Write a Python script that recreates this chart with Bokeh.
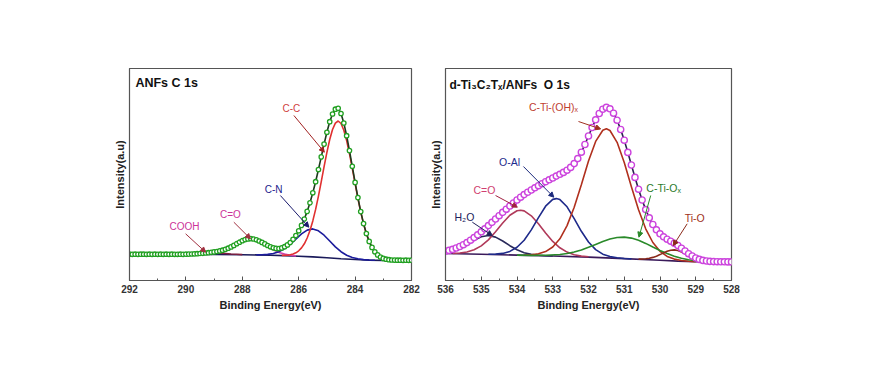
from bokeh.plotting import figure
from bokeh.models import Range1d, SingleIntervalTicker, FixedTicker, Label, Arrow, NormalHead
from bokeh.layouts import row
from bokeh.embed import file_html
from bokeh.resources import INLINE

FONT = "Liberation Sans"

# ---------------- Left panel: ANFs C 1s ----------------
c1s_be = [round(292.0 - 0.1 * i, 1) for i in range(101)]
c1s_counts = [25.3, 25.2, 25.3, 25.2, 25.3, 25.3, 25.2, 25.3, 25.2, 25.3,
              25.2, 25.3, 25.2, 25.3, 25.2, 25.3, 25.2, 25.2, 25.3, 25.2,
              25.3, 25.4, 25.5, 25.6, 25.8, 26.0, 26.2, 26.5, 26.8, 27.2,
              27.6, 28.0, 28.6, 29.3, 30.2, 31.3, 32.6, 34.1, 35.8, 37.3,
              38.8, 39.9, 40.6, 40.9, 40.5, 39.7, 38.5, 37.1, 35.6, 34.0,
              32.7, 31.7, 31.1, 31.0, 31.6, 32.8, 34.6, 37.0, 40.2, 44.0,
              48.7, 54.1, 60.5, 68.1, 76.7, 86.7, 97.8, 110.0, 122.6, 135.4,
              147.2, 157.8, 165.5, 170.3, 171.2, 166.0, 156.5, 143.8, 128.9, 113.2,
              97.1, 81.9, 67.9, 55.9, 46.0, 38.1, 32.1, 27.7, 24.6, 22.5,
              21.1, 20.3, 19.8, 19.5, 19.4, 19.3, 19.3, 19.2, 19.3, 19.2, 19.3]

c1s_bg_be = [292.0, 289.0, 288.0, 287.0, 286.5, 286.0, 285.5, 285.0, 284.5, 284.0, 283.5, 283.0, 282.0]
c1s_bg = [25.0, 25.0, 24.8, 24.3, 23.9, 23.3, 22.6, 21.7, 20.8, 20.0, 19.4, 19.1, 19.0]

cc_be = [286.6, 286.4, 286.3, 286.2, 286.1, 286.0, 285.9, 285.8, 285.7, 285.6, 285.5,
         285.4, 285.3, 285.2, 285.1, 285.0, 284.9, 284.8, 284.7, 284.6, 284.5,
         284.4, 284.3, 284.2, 284.1, 284.0, 283.9, 283.8, 283.7, 283.6, 283.5,
         283.4, 283.3, 283.2, 283.1, 283.0, 282.8, 282.6]
cc_val = [24.1, 24.3, 24.8, 25.5, 26.7, 28.7, 31.6, 35.7, 41.5, 49.0, 58.6,
          70.1, 83.4, 97.8, 112.9, 127.2, 140.0, 150.0, 156.3, 158.5, 156.0,
          149.3, 139.0, 125.8, 111.2, 95.8, 81.0, 67.4, 55.6, 45.8, 38.0,
          32.1, 27.7, 24.6, 22.5, 21.1, 19.7, 19.2]

cn_be = [287.5, 287.3, 287.1, 286.9, 286.7, 286.5, 286.3, 286.1, 285.9, 285.7, 285.5,
         285.3, 285.1, 284.9, 284.7, 284.5, 284.3, 284.1, 283.9, 283.7, 283.5, 283.3]
cn_val = [24.6, 24.7, 25.1, 26.0, 27.8, 30.9, 35.1, 40.4, 45.6, 49.4, 50.6,
          48.7, 44.3, 38.5, 32.6, 27.8, 24.3, 22.0, 20.7, 19.9, 19.5, 19.3]

co_be = [289.3, 289.1, 288.9, 288.7, 288.5, 288.3, 288.1, 287.9, 287.7, 287.5, 287.3,
         287.1, 286.9, 286.7, 286.5, 286.3, 286.1]
co_val = [25.2, 25.6, 26.5, 28.1, 30.5, 33.7, 37.1, 39.7, 40.6, 39.5, 36.7,
          33.1, 29.8, 27.1, 25.4, 24.2, 23.6]

cooh_be = [290.0, 289.8, 289.6, 289.4, 289.2, 289.0, 288.8, 288.6, 288.4, 288.2, 288.0]
cooh_val = [25.1, 25.3, 25.6, 26.0, 26.4, 26.5, 26.4, 25.95, 25.5, 25.2, 24.9]

# ---------------- Right panel: d-Ti3C2Tx/ANFs O 1s ----------------
o1s_be = [round(536.0 - 0.1 * i, 1) for i in range(81)]
o1s_counts = [29.8, 30.6, 31.6, 33.0, 34.5, 36.3, 38.4, 40.8, 43.4, 46.2,
              49.2, 52.2, 55.4, 58.6, 62.0, 65.3, 68.6, 71.8, 75.0, 78.0,
              81.0, 83.8, 86.4, 88.8, 91.0, 93.2, 95.3, 97.3, 99.3, 101.2,
              103.0, 104.9, 106.7, 108.6, 110.8, 113.6, 117.4, 122.4, 128.8, 136.5,
              145.0, 153.5, 161.2, 167.5, 171.8, 173.6, 172.2, 167.8, 160.8, 151.5,
              140.8, 128.6, 116.0, 103.6, 91.8, 81.0, 71.4, 63.2, 56.5, 51.2,
              47.2, 44.2, 41.8, 39.8, 37.8, 35.5, 32.8, 30.0, 27.3, 25.0,
              23.0, 21.6, 20.6, 20.0, 19.6, 19.4, 19.3, 19.2, 19.2, 19.1, 19.1]

o1s_bg_be = [536.0, 535.0, 534.0, 533.0, 532.0, 531.0, 530.0, 529.5, 529.0, 528.5, 528.0]
o1s_bg = [27.5, 26.7, 25.9, 25.0, 23.9, 22.4, 20.7, 19.9, 19.3, 19.0, 19.0]

h2o_be = [536.0, 535.8, 535.6, 535.4, 535.2, 535.0, 534.8, 534.6, 534.4, 534.2, 534.0,
          533.8, 533.6, 533.4, 533.2, 533.0]
h2o_val = [28.6, 29.9, 32.5, 36.3, 40.7, 44.2, 45.5, 43.9, 40.0, 35.3, 31.2,
           28.3, 26.6, 25.7, 25.3, 25.0]

oco_be = [535.8, 535.6, 535.4, 535.2, 535.0, 534.8, 534.6, 534.4, 534.2, 534.0, 533.9,
          533.8, 533.6, 533.4, 533.2, 533.0, 532.8, 532.6, 532.4, 532.2, 532.0]
oco_val = [27.6, 28.0, 29.0, 31.2, 35.1, 41.1, 49.2, 58.0, 65.8, 70.3, 70.8,
           70.1, 65.2, 57.2, 48.0, 39.6, 33.2, 28.9, 26.3, 24.9, 24.2]

oal_be = [534.8, 534.6, 534.4, 534.2, 534.0, 533.8, 533.6, 533.4, 533.2, 533.0, 532.9,
          532.8, 532.6, 532.4, 532.2, 532.0, 531.8, 531.6, 531.4, 531.2, 531.0, 530.8]
oal_val = [26.7, 26.9, 27.6, 29.6, 33.7, 40.8, 51.1, 63.4, 74.8, 81.6, 82.4,
           81.4, 74.2, 62.3, 49.7, 39.0, 31.4, 26.8, 24.4, 23.2, 22.55, 22.1]

toh_be = [533.8, 533.6, 533.4, 533.2, 533.0, 532.8, 532.6, 532.4, 532.2, 532.0, 531.8,
          531.6, 531.5, 531.4, 531.2, 531.0, 530.8, 530.6, 530.4, 530.2, 530.0,
          529.8, 529.6, 529.4, 529.2, 529.0]
toh_val = [26.0, 26.2, 27.2, 29.4, 34.0, 42.2, 55.4, 73.8, 96.3, 119.9, 139.6,
           150.8, 152.2, 150.5, 138.7, 118.4, 94.3, 71.2, 52.2, 38.5, 29.7,
           24.6, 21.9, 20.5, 19.8, 19.35]

tox_be = [534.0, 533.6, 533.2, 532.8, 532.6, 532.4, 532.2, 532.0, 531.8, 531.6, 531.4,
          531.2, 531.0, 530.8, 530.6, 530.4, 530.2, 530.0, 529.8, 529.6, 529.4,
          529.2, 529.0, 528.8, 528.6]
tox_val = [25.9, 25.65, 25.7, 26.5, 27.5, 29.0, 31.1, 33.7, 36.6, 39.5, 42.0,
           43.5, 43.9, 42.9, 40.7, 37.6, 34.0, 30.5, 27.4, 24.7, 22.7,
           21.2, 20.2, 19.7, 19.3]

tio_be = [530.6, 530.4, 530.3, 530.2, 530.1, 530.0, 529.9, 529.8, 529.7, 529.6, 529.5,
          529.4, 529.3, 529.2, 529.1, 529.0, 528.9, 528.8, 528.6]
tio_val = [21.9, 22.2, 22.7, 23.6, 24.8, 26.4, 28.1, 29.7, 30.8, 31.1, 30.5,
           29.1, 27.3, 25.3, 23.4, 21.8, 20.7, 20.0, 19.25]


def make_fig(xr, yr, width, border_left, border_right, interval):
    p = figure(width=width, height=330, x_range=Range1d(*xr), y_range=Range1d(*yr),
               output_backend="svg", toolbar_location=None,
               min_border_left=border_left, min_border_right=border_right,
               min_border_top=68, min_border_bottom=50)
    p.grid.visible = False
    p.outline_line_color = "#555555"
    p.outline_line_width = 1.2
    p.background_fill_color = "white"
    p.border_fill_color = "white"
    xa = p.xaxis[0]
    xa.ticker = SingleIntervalTicker(interval=interval, num_minor_ticks=2)
    xa.major_tick_in = 4
    xa.major_tick_out = 0
    xa.minor_tick_in = 2
    xa.minor_tick_out = 0
    xa.axis_line_color = "#555555"
    xa.major_tick_line_color = "#555555"
    xa.minor_tick_line_color = "#555555"
    xa.major_label_text_font = FONT
    xa.major_label_text_font_size = "10px"
    xa.major_label_text_font_style = "bold"
    xa.major_label_text_color = "#333333"
    xa.major_label_standoff = 4
    xa.axis_label = "Binding Energy(eV)"
    xa.axis_label_text_font = FONT
    xa.axis_label_text_font_size = "11px"
    xa.axis_label_text_font_style = "bold"
    xa.axis_label_text_color = "#222222"
    xa.axis_label_standoff = 3
    ya = p.yaxis[0]
    ya.ticker = FixedTicker(ticks=[])
    ya.major_tick_in = 0
    ya.major_tick_out = 0
    ya.minor_tick_in = 0
    ya.minor_tick_out = 0
    ya.major_label_standoff = 0
    ya.axis_line_color = "#555555"
    ya.axis_label = "Intensity(a.u)"
    ya.axis_label_text_font = FONT
    ya.axis_label_text_font_size = "11px"
    ya.axis_label_text_font_style = "bold"
    ya.axis_label_text_color = "#222222"
    ya.axis_label_standoff = 4
    return p


def add_label(p, x, y, text, color, size="10px", align="center", bold=False):
    p.add_layout(Label(x=x, y=y, text=text, text_font=FONT, text_font_size=size,
                       text_color=color, text_align=align, text_baseline="middle",
                       text_font_style="bold" if bold else "normal"))


def add_arrow(p, x0, y0, x1, y1, color):
    p.add_layout(Arrow(end=NormalHead(size=5, fill_color=color, line_color=color, line_width=1),
                       x_start=x0, y_start=y0, x_end=x1, y_end=y1,
                       line_color=color, line_width=1))


LW = 1.6

# ---- left figure
p1 = make_fig((292, 282), (-1, 211), 421, 129, 10, 2)
p1.line(c1s_bg_be, c1s_bg, line_color="#1a1a5a", line_width=LW)
p1.line(cooh_be, cooh_val, line_color="#802040", line_width=LW)
p1.line(co_be, co_val, line_color="#d040b0", line_width=LW)
p1.line(cn_be, cn_val, line_color="#1c1c9c", line_width=LW)
p1.line(cc_be, cc_val, line_color="#e03030", line_width=LW)
p1.line(c1s_be, c1s_counts, line_color="#1e3a1e", line_width=LW)
p1.scatter(c1s_be, c1s_counts, marker="circle", size=4.4, line_color="#22a022",
           line_width=1.3, fill_color="white")

add_label(p1, 291.79, 197, "ANFs C 1s", "#111111", size="12.5px", align="left", bold=True)
add_label(p1, 286.26, 171, "C-C", "#d04040")
add_arrow(p1, 286.17, 164, 285.09, 127.3, "#a02020")
add_label(p1, 286.89, 90, "C-N", "#1a1a8c")
add_arrow(p1, 286.65, 84, 285.64, 52.3, "#1a1a6c")
add_label(p1, 288.42, 65, "C=O", "#cc3399")
add_arrow(p1, 288.30, 57.3, 287.71, 40.7, "#a03040")
add_label(p1, 290.05, 53, "COOH", "#cc3399")
add_arrow(p1, 290.01, 45.7, 289.30, 27.3, "#a03040")

# ---- right figure
p2 = make_fig((536, 528), (0.5, 212.5), 330, 24, 20, 1)
p2.line(o1s_bg_be, o1s_bg, line_color="#3a1a5a", line_width=LW)
p2.line(h2o_be, h2o_val, line_color="#2a2a5a", line_width=LW)
p2.line(oco_be, oco_val, line_color="#b03a5a", line_width=LW)
p2.line(oal_be, oal_val, line_color="#1e2a8a", line_width=LW)
p2.line(toh_be, toh_val, line_color="#b0301e", line_width=LW)
p2.line(tox_be, tox_val, line_color="#2a8a2a", line_width=LW)
p2.line(tio_be, tio_val, line_color="#8a2a1a", line_width=LW)
p2.line(o1s_be, o1s_counts, line_color="#2a2050", line_width=LW)
p2.scatter(o1s_be, o1s_counts, marker="circle", size=6.2, line_color="#cc44dd",
           line_width=1.4, fill_color="white")

add_label(p2, 535.89, 196.5, "d-Ti\u2083C\u2082T\u2093/ANFs \u00a0O 1s", "#111111", size="12px",
          align="left", bold=True)
add_label(p2, 532.98, 174.5, "C-Ti-(OH)\u2093", "#c04030", size="10.5px")
add_arrow(p2, 532.28, 159.5, 531.66, 152.0, "#a03020")
add_label(p2, 534.21, 119.5, "O-Al", "#1c2a8c", size="10.5px")
add_arrow(p2, 533.82, 114.5, 532.97, 83.8, "#1c2a7c")
add_label(p2, 534.91, 91.5, "C=O", "#d04070", size="10.5px")
add_arrow(p2, 534.60, 85.5, 533.99, 73.8, "#a02040")
add_label(p2, 535.47, 64.5, "H\u2082O", "#20205a", size="10.5px")
add_arrow(p2, 535.25, 58.8, 534.69, 45.5, "#20205a")
add_label(p2, 529.90, 93.5, "C-Ti-O\u2093", "#2a7a2a", size="10.5px")
add_arrow(p2, 530.26, 85.5, 530.59, 43.8, "#2a8a2a")
add_label(p2, 529.03, 63.5, "Ti-O", "#a03020", size="10.5px")
add_arrow(p2, 529.24, 57.2, 529.63, 35.5, "#8a2a1a")

layout = row(p1, p2)
open("out.html", "w").write(file_html(layout, INLINE))
